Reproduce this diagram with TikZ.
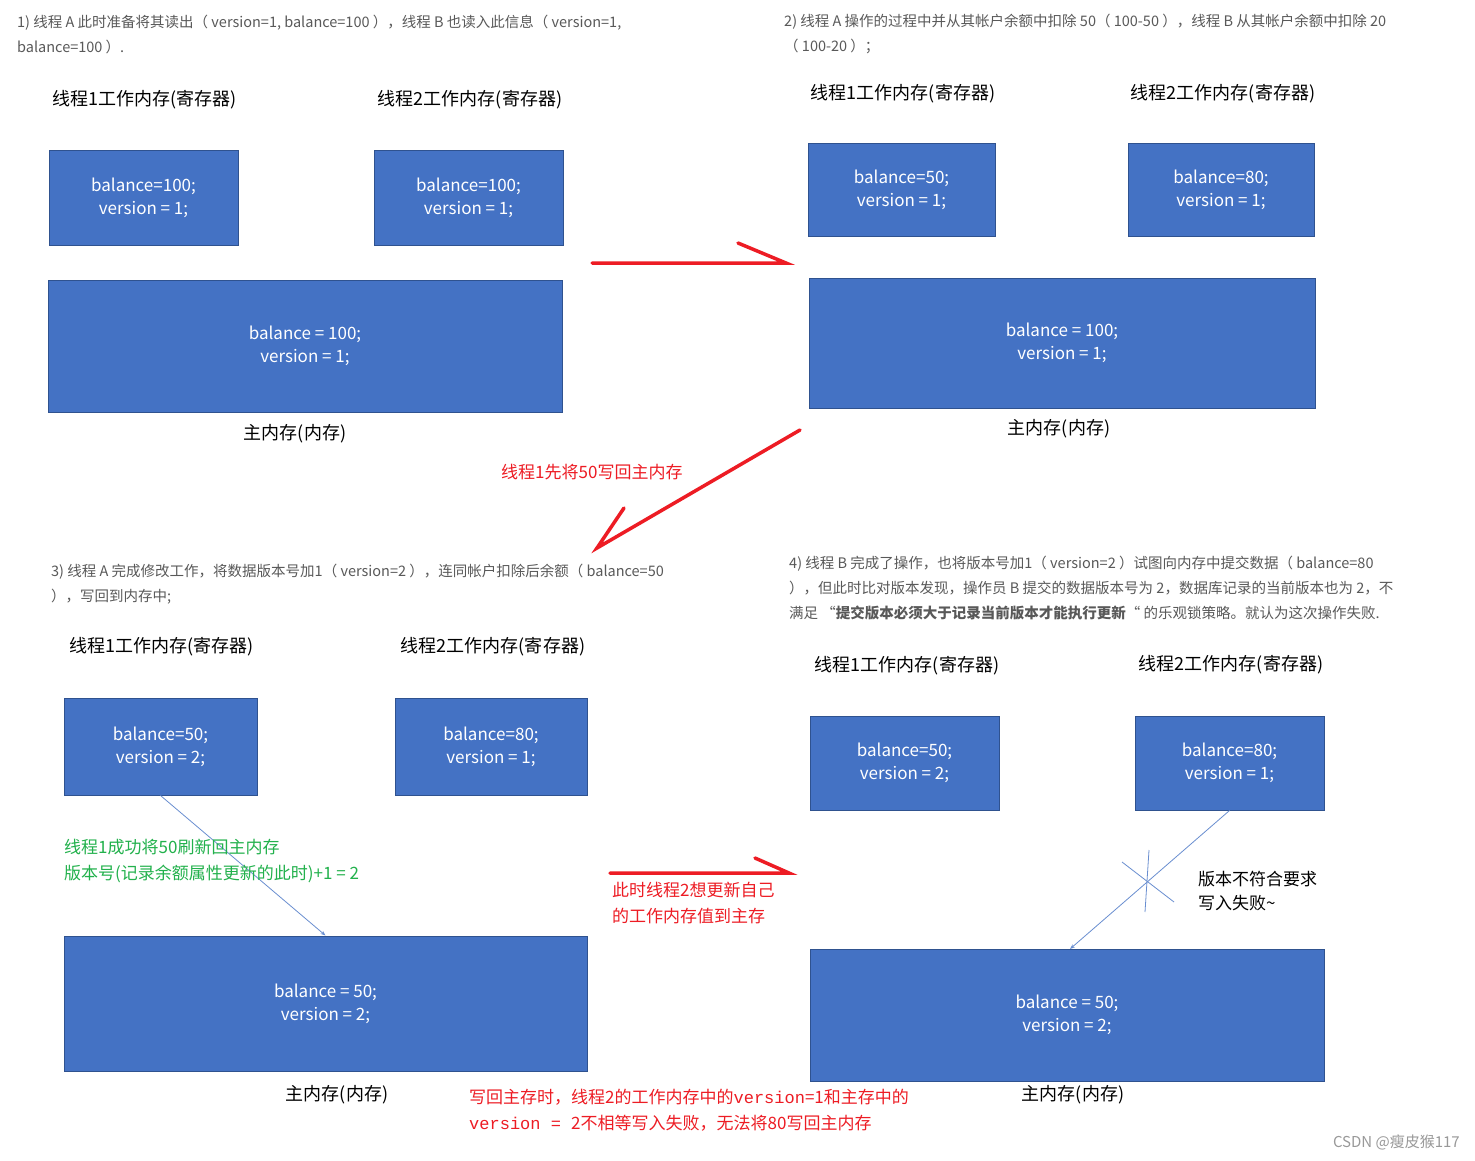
\documentclass[tikz,border=0pt]{standalone}
\usepackage{fontspec}
\setmainfont{Noto Sans CJK SC}
\newfontfamily\monof{Liberation Mono}
\usetikzlibrary{arrows.meta}
\definecolor{bfill}{HTML}{4472C4}
\definecolor{bline}{HTML}{2F528F}
\definecolor{gtext}{HTML}{595959}
\definecolor{redc}{HTML}{ED1C24}
\definecolor{grn}{HTML}{22B14C}
\tikzset{
 bx/.style={draw=bline,fill=bfill,line width=1pt,text=white,font=\fontsize{17}{23}\selectfont,align=center,inner sep=0},
 hd/.style={font=\fontsize{18}{22}\selectfont},
 desc/.style={anchor=west,text=gtext,font=\fontsize{14.5}{25}\selectfont,align=left,inner sep=0},
 redarr/.style={draw=redc,line width=3.5pt,line cap=round},
 thin/.style={draw=bfill!80,line width=0.8pt}
}
\newcommand{\mybox}[5]{\draw[bx] (#1,#2) rectangle (#3,#4) node[midway] {#5};}
\begin{document}
\begin{tikzpicture}[x=1pt,y=-1pt]
\useasboundingbox[fill=white] (0,0) rectangle (1475,1160);
% panel 1
\node[desc] (h1) at (17,34) {1) 线程 A 此时准备将其读出（ version=1, balance=100 ），线程 B 也读入此信息（ version=1,\\balance=100 ）.};
\node[hd] (l11) at (145,100) {线程1工作内存(寄存器)};
\node[hd] (l12) at (470,100) {线程2工作内存(寄存器)};
\node[bx,minimum width=189,minimum height=95] (a1) at (143.5,197.5) {balance=100;\\version = 1;};
\node[bx,minimum width=189,minimum height=95] (b1) at (468.5,197.5) {balance=100;\\version = 1;};
\node[bx,minimum width=514,minimum height=132] (m1) at (305,346) {balance = 100;\\version = 1;};
\node[hd] (mm1) at (295,434) {主内存(内存)};
% panel 2
\node[desc] (h2) at (784,34) {2) 线程 A 操作的过程中并从其帐户余额中扣除 50（ 100-50 ），线程 B 从其帐户余额中扣除 20\\（ 100-20 ）；};
\node[hd] (l21) at (903,94) {线程1工作内存(寄存器)};
\node[hd] (l22) at (1223,94) {线程2工作内存(寄存器)};
\node[bx,minimum width=187,minimum height=93] (a2) at (901.5,189.5) {balance=50;\\version = 1;};
\node[bx,minimum width=186,minimum height=93] (b2) at (1221,189.5) {balance=80;\\version = 1;};
\node[bx,minimum width=506,minimum height=130] (m2) at (1062,343) {balance = 100;\\version = 1;};
\node[hd] (mm2) at (1059,429) {主内存(内存)};
% panel 3
\node[desc] (h3) at (51,584) {3) 线程 A 完成修改工作，将数据版本号加1（ version=2 ），连同帐户扣除后余额（ balance=50\\），写回到内存中;};
\node[hd] (l31) at (162,647) {线程1工作内存(寄存器)};
\node[hd] (l32) at (493,647) {线程2工作内存(寄存器)};
\node[bx,minimum width=193,minimum height=97] (a3) at (160.5,746.5) {balance=50;\\version = 2;};
\node[bx,minimum width=192,minimum height=97] (b3) at (491,746.5) {balance=80;\\version = 1;};
\node[bx,minimum width=523,minimum height=135] (m3) at (325.5,1003.5) {balance = 50;\\version = 2;};
\node[hd] (mm3) at (337,1095) {主内存(内存)};
% panel 4
\node[desc] (h4) at (789,588) {4) 线程 B 完成了操作，也将版本号加1（ version=2 ）试图向内存中提交数据（ balance=80\\），但此时比对版本发现，操作员 B 提交的数据版本号为 2，数据库记录的当前版本也为 2，不\\满足 “\textbf{提交版本必须大于记录当前版本才能执行更新}“ 的乐观锁策略。就认为这次操作失败.};
\node[hd] (l41) at (907,666) {线程1工作内存(寄存器)};
\node[hd] (l42) at (1231,665) {线程2工作内存(寄存器)};
\node[bx,minimum width=189,minimum height=94] (a4) at (904.5,763) {balance=50;\\version = 2;};
\node[bx,minimum width=189,minimum height=94] (b4) at (1229.5,763) {balance=80;\\version = 1;};
\node[bx,minimum width=514,minimum height=132] (m4) at (1067,1015) {balance = 50;\\version = 2;};
\node[hd] (mm4) at (1073,1095) {主内存(内存)};
% red arrows
\coordinate (r1s) at (592,263); \coordinate (r1e) at (786,263); \coordinate (r1h) at (738,243);
\draw[redarr] (r1s) -- (r1e) -- (r1h);
\coordinate (r2s) at (800,430); \coordinate (r2e) at (597,548); \coordinate (r2h) at (624,508);
\draw[redarr] (r2s) -- (r2e) -- (r2h);
\coordinate (r3s) at (610,873); \coordinate (r3e) at (789,873); \coordinate (r3h) at (755,858);
\draw[redarr] (r3s) -- (r3e) -- (r3h);
\node[anchor=west,text=redc,font=\fontsize{17}{22}\selectfont,inner sep=0] (t2) at (501,472) {线程1先将50写回主内存};
% thin lines
\draw[thin,-{Stealth[length=5pt]}] (a3.south) -- (m3.north);
\draw[thin,-{Stealth[length=5pt]}] (b4.south) -- (1070,949);
\coordinate (x1) at (1122,862); \coordinate (x2) at (1174,902);
\coordinate (x3) at (1149,850); \coordinate (x4) at (1145,912);
\draw[thin] (x1) -- (x2); \draw[thin] (x3) -- (x4);
% texts
\node[anchor=west,text=grn,font=\fontsize{17}{26}\selectfont,align=left,inner sep=0] (gt) at (64,861) {线程1成功将50刷新回主内存\\版本号(记录余额属性更新的此时)+1 = 2};
\node[anchor=west,text=redc,font=\fontsize{17}{26}\selectfont,align=left,inner sep=0] (rt) at (612,903) {此时线程2想更新自己\\的工作内存值到主存};
\node[anchor=west,font=\fontsize{17}{24}\selectfont,align=left,inner sep=0] (ft) at (1198,891) {版本不符合要求\\写入失败\textasciitilde};
\node[anchor=west,text=redc,font=\fontsize{17}{26}\selectfont,align=left,inner sep=0] (bt) at (469,1110) {写回主存时，线程2的工作内存中的{\monof version}=1和主存中的\\{\monof version = }2不相等写入失败，无法将80写回主内存};
\node[anchor=east,text=gray!80,font=\fontsize{15}{18}\selectfont,inner sep=0] (wm) at (1460,1142) {CSDN @瘦皮猴117};
\end{tikzpicture}
\end{document}
